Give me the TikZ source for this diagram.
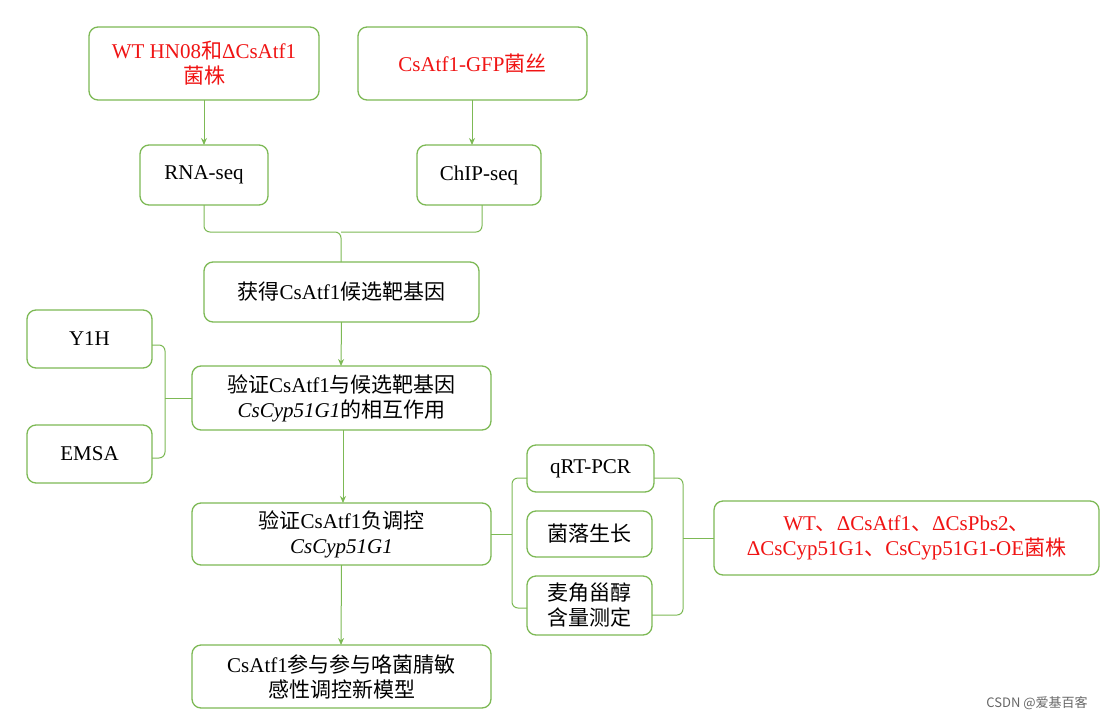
\documentclass[tikz,border=0pt]{standalone}
\usepackage{fontspec}
\setmainfont{Liberation Serif}
\newfontfamily\cjk{Noto Sans CJK SC}
\usetikzlibrary{arrows.meta}
\definecolor{gr}{RGB}{125,185,85}
\definecolor{rd}{RGB}{240,20,20}
\begin{document}
\begin{tikzpicture}[x=1pt,y=-1pt,
 box/.style={draw=gr,line width=1.3pt,rounded corners=9pt,fill=white},
 t/.style={font=\fontsize{21}{25}\selectfont,align=center},
 ln/.style={draw=gr,line width=1pt,rounded corners=6pt},
 ar/.style={ln,-{Stealth[length=7pt,width=6pt]}}]
\useasboundingbox (0,0) rectangle (1113,720);
\newcommand{\bx}[6]{\draw[box] (#2,#3) rectangle (#4,#5); \node[t] (#1) at ({(#2+#4)/2},{(#3+#5)/2}) {#6};
 \coordinate (#1-n) at ({(#2+#4)/2},#3); \coordinate (#1-s) at ({(#2+#4)/2},#5);
 \coordinate (#1-w) at (#2,{(#3+#5)/2}); \coordinate (#1-e) at (#4,{(#3+#5)/2});}
\bx{A}{89}{27}{319}{100}{\color{rd}WT HN08{\cjk 和}ΔCsAtf1\\\color{rd}\cjk 菌株}
\bx{B}{358}{27}{587}{100}{\color{rd}CsAtf1-GFP{\cjk 菌丝}}
\bx{C}{140}{145}{268}{205}{RNA-seq}
\bx{D}{417}{145}{541}{205}{ChIP-seq}
\bx{E}{204}{262}{479}{322}{{\cjk 获得}CsAtf1{\cjk 候选靶基因}}
\bx{Y}{27}{310}{152}{368}{Y1H}
\bx{M}{27}{425}{152}{483}{EMSA}
\bx{F}{192}{366}{491}{430}{{\cjk 验证}CsAtf1{\cjk 与候选靶基因}\\\textit{CsCyp51G1}{\cjk 的相互作用}}
\bx{G}{192}{503}{491}{565}{{\cjk 验证}CsAtf1{\cjk 负调控}\\\textit{CsCyp51G1}}
\bx{H}{192}{645}{491}{708}{CsAtf1{\cjk 参与参与咯菌腈敏}\\\cjk 感性调控新模型}
\bx{Q}{527}{445}{654}{492}{qRT-PCR}
\bx{J}{527}{511}{652}{557}{\cjk 菌落生长}
\bx{K}{527}{576}{652}{635}{\cjk 麦角甾醇\\\cjk 含量测定}
\bx{R}{714}{501}{1099}{575}{\color{rd}WT{\cjk 、}ΔCsAtf1{\cjk 、}ΔCsPbs2{\cjk 、}\\\color{rd}ΔCsCyp51G1{\cjk 、}CsCyp51G1-OE{\cjk 菌株}}
\draw[ar] (204,100) -- (C-n);
\draw[ar] (472,100) -- (472,145);
\draw[ln] (204,205) -- (204,232) -- (341,232) -- (341,262);
\draw[ln] (482,205) -- (482,232) -- (341,232);
\draw[ar] (E-s) -- (341,366);
\draw[ar] (343,430) -- (343,503);
\draw[ar] (G-s) -- (341,645);
\draw[ln] (152,345) -- (165,345) -- (165,458) -- (152,458);
\draw[ln] (165,398) -- (F-w);
\draw[ln] (527,478) -- (512,478) -- (512,608) -- (527,608);
\draw[ln] (G-e) -- (512,534);
\draw[ln] (654,478) -- (683,478) -- (683,615) -- (652,615);
\draw[ln] (683,538) -- (R-w);
\node[font=\fontsize{13}{15}\selectfont\cjk,text=black!60] (W) at (1037,703) {CSDN @爱基百客};
\end{tikzpicture}
\end{document}
